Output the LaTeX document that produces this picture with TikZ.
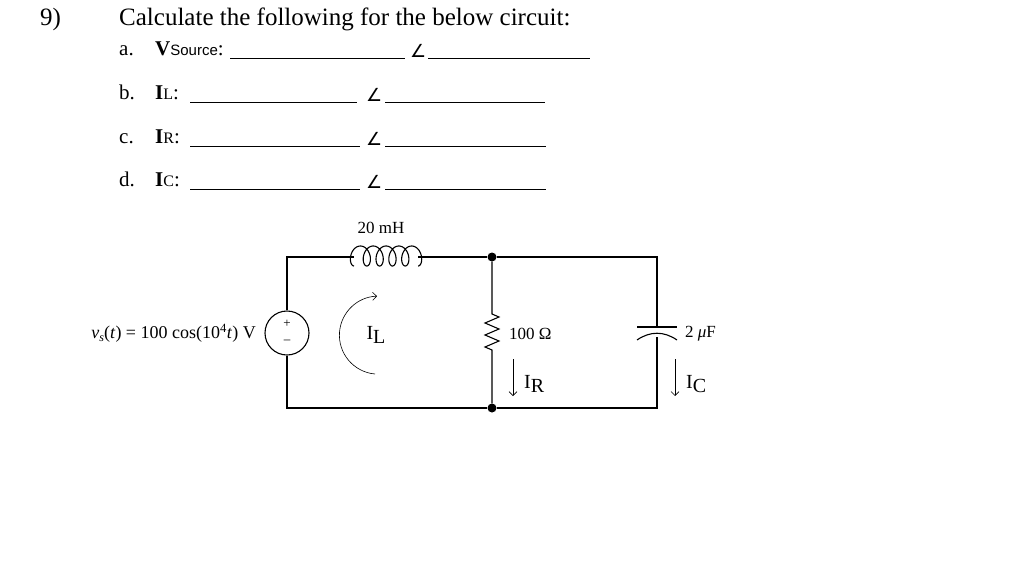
\documentclass[tikz,border=0pt]{standalone}
\usepackage{fontspec}
\setmainfont{Liberation Serif}
\newfontfamily\sansf{Liberation Sans}
\newfontfamily\dejav{DejaVu Sans}
\usetikzlibrary{arrows.meta}
\begin{document}
\begin{tikzpicture}[x=1pt,y=-1pt,
  q/.style={anchor=base west,inner sep=0,font=\fontsize{21}{21}\selectfont},
  ang/.style={anchor=base west,inner sep=0,font=\dejav\fontsize{18}{18}\selectfont},
  ul/.style={line width=0.7pt},
  w/.style={line width=1.1pt},
  lbl/.style={inner sep=0,font=\fontsize{17}{17}\selectfont},
  dot/.style={circle,fill,inner sep=0,minimum size=9pt}]
\useasboundingbox (0,0) rectangle (1010,568);
\node[q,font=\fontsize{25}{25}\selectfont] (n9) at (40,25) {9)};
\node[q,font=\fontsize{25}{25}\selectfont] (t) at (119,25) {Calculate the following for the below circuit:};
% a
\node[q] (a) at (119,55) {a.};
\node[q] (va) at (155,55) {\textbf{V}{\sansf\fontsize{15}{15}\selectfont Source}:};
\draw[ul] (230,58) -- (405,58);
\node[ang] (angA) at (410,57) {∠};
\draw[ul] (428,58) -- (590,58);
% b
\node[q] (b) at (119,99) {b.};
\node[q] (vb) at (155,99) {\textbf{I}{\fontsize{16}{16}\selectfont L}:};
\draw[ul] (190,102) -- (357,102);
\node[ang] (angB) at (366,101) {∠};
\draw[ul] (385,102) -- (545,102);
% c
\node[q] (c) at (119,143) {c.};
\node[q] (vc) at (155,143) {\textbf{I}{\fontsize{16}{16}\selectfont R}:};
\draw[ul] (190,146) -- (360,146);
\node[ang] (angC) at (366,145) {∠};
\draw[ul] (385,146) -- (546,146);
% d
\node[q] (d) at (119,186) {d.};
\node[q] (vd) at (155,186) {\textbf{I}{\fontsize{16}{16}\selectfont C}:};
\draw[ul] (190,189) -- (360,189);
\node[ang] (angD) at (366,188) {∠};
\draw[ul] (385,189) -- (546,189);
% circuit
\coordinate (tl) at (287,257); \coordinate (bl) at (287,408);
\coordinate (tr) at (657,257); \coordinate (br) at (657,408);
\node[dot] (nt) at (492,257) {}; \node[dot] (nb) at (492,408) {};
\node[draw,circle,w,minimum size=44pt,inner sep=0] (src) at (287,333) {};
\node[inner sep=0,font=\fontsize{13}{13}\selectfont] at (287,324) {+};
\node[inner sep=0,font=\fontsize{13}{13}\selectfont] at (287,342) {–};
\draw[w] (src.north) -- (tl) -- (354,257);
\draw[w,smooth,samples=250] plot[domain=0:31.4159] ({354+2.04*\x-6.5*sin(\x r)},{266-10*(1-cos(\x r))});
\draw[w] (418,257) -- (nt) -- (tr) -- (657,327);
\draw[w] (src.south) -- (bl) -- (nb) -- (br) -- (657,337);
\draw[w] (637,327) -- (677,327);
\draw[w] (637,340) .. controls (650,331) and (664,331) .. (677,340);
\draw[w] (nt) -- (492,314) -- (499,317) -- (485,323) -- (499,329) -- (485,335) -- (499,341) -- (485,347) -- (492,350) -- (nb);
\node[lbl] (l20) at (381,228) {20 mH};
\node[lbl,anchor=west] (l100) at (509,334) {100 Ω};
\node[lbl,anchor=west] (l2) at (685,334) {2 \textit{μ}F};
\node[lbl,anchor=east,font=\fontsize{18}{18}\selectfont] (vs) at (256,333) {\textit{v}\raisebox{-3pt}{\fontsize{12}{12}\selectfont\textit{s}}(\textit{t}) = 100 cos(10\textsuperscript{4}\textit{t}) V};
\draw[line width=0.6pt,-{Straight Barb[length=4pt]}] (513,359) -- (513,396);
\draw[line width=0.6pt,-{Straight Barb[length=4pt]}] (675,359) -- (675,396);
\node[lbl,anchor=west,font=\fontsize{20}{20}\selectfont] (ir) at (524,384) {I\raisebox{-4pt}{R}};
\node[lbl,anchor=west,font=\fontsize{20}{20}\selectfont] (ic) at (686,384) {I\raisebox{-4pt}{C}};
\node[lbl,font=\fontsize{20}{20}\selectfont] (il) at (376,335) {I\raisebox{-4pt}{L}};
\draw[line width=0.6pt,-{Straight Barb[length=4pt]}] (375,374) arc[start angle=95,end angle=268,radius=39];
\end{tikzpicture}
\end{document}
